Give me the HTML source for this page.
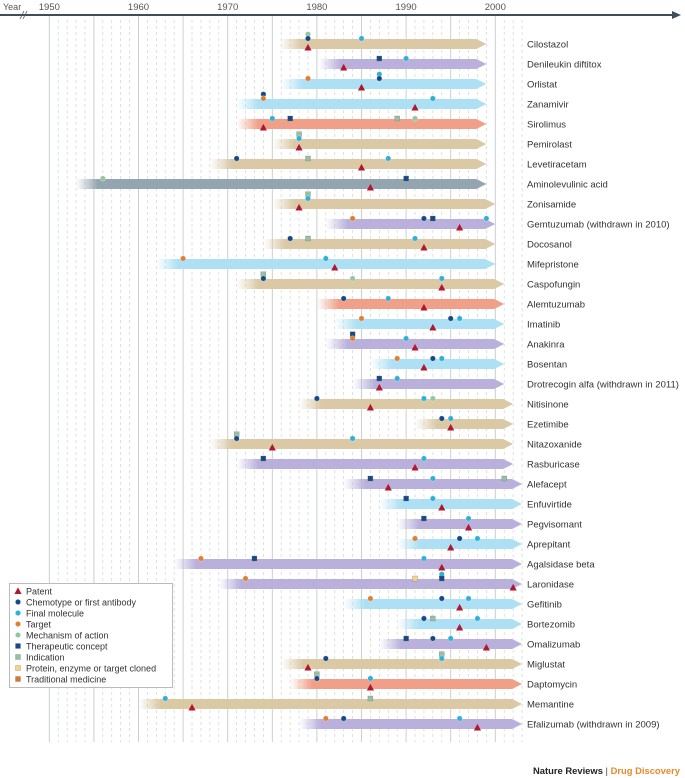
<!DOCTYPE html>
<html><head><meta charset="utf-8"><style>
body{margin:0;background:#fff;}
svg{display:block;font-family:"Liberation Sans",sans-serif;}
</style></head><body>
<svg id="chart" width="685" height="778" viewBox="0 0 685 778" xmlns="http://www.w3.org/2000/svg">
<defs id="defs"></defs>
<g id="grid"></g>
<g id="axis">
<line x1="0" y1="15" x2="672" y2="15" stroke="#3d4f5c" stroke-width="2"/>
<polygon points="672,11 681,15 672,19" fill="#3d4f5c"/>
<text x="3" y="10" font-size="9" fill="#555">Year</text>
<line x1="20" y1="19" x2="24" y2="11" stroke="#555" stroke-width="0.8"/>
<line x1="23" y1="19" x2="27" y2="11" stroke="#555" stroke-width="0.8"/>
</g>
<g id="bands"></g>
<g id="marks"></g>
<g id="labels"></g>
<g>
<rect x="9.5" y="583.5" width="163" height="104" fill="#fff" stroke="#bbb" stroke-width="1"/>
<g id="legend"></g>
</g>
<text x="533" y="774" font-size="9.5" font-weight="bold" fill="#222" textLength="147" lengthAdjust="spacingAndGlyphs">Nature Reviews <tspan fill="#444" font-weight="normal">|</tspan> <tspan fill="#e8892a">Drug Discovery</tspan></text>
</svg>
<script>
const drugs=["Cilostazol","Denileukin diftitox","Orlistat","Zanamivir","Sirolimus","Pemirolast","Levetiracetam","Aminolevulinic acid","Zonisamide","Gemtuzumab (withdrawn in 2010)","Docosanol","Mifepristone","Caspofungin","Alemtuzumab","Imatinib","Anakinra","Bosentan","Drotrecogin alfa (withdrawn in 2011)","Nitisinone","Ezetimibe","Nitazoxanide","Rasburicase","Alefacept","Enfuvirtide","Pegvisomant","Aprepitant","Agalsidase beta","Laronidase","Gefitinib","Bortezomib","Omalizumab","Miglustat","Daptomycin","Memantine","Efalizumab (withdrawn in 2009)"];
const startYears=[1975.8,1980.2,1976,1971,1971,1975,1968,1953,1975,1981,1974,1962,1971,1980,1982,1981,1986,1984,1978,1991,1968,1971,1983,1987,1989,1989,1964,1969,1983,1989,1987,1976,1977,1960,1978];
const approvalYears=[1999,1999,1999,1999,1999,1999,1999,1999,2000,2000,2000,2000,2001,2001,2001,2001,2001,2001,2002,2002,2002,2002,2003,2003,2003,2003,2003,2003,2003,2003,2003,2003,2003,2003,2003];
const bandColors=["tan","purple","blue","blue","salmon","tan","tan","slate","tan","purple","tan","blue","tan","salmon","blue","purple","blue","purple","tan","tan","tan","purple","purple","blue","purple","blue","purple","purple","blue","blue","purple","tan","salmon","tan","purple"];
// markers: [row, type, year, level]
const markers=[
[0,"mech",1979,2],[0,"chem",1979,1],[0,"final",1985,1],[0,"patent",1979,0],
[1,"concept",1987,1],[1,"final",1990,1],[1,"patent",1983,0],
[2,"target",1979,1],[2,"final",1987,2],[2,"chem",1987,1],[2,"patent",1985,0],
[3,"chem",1974,2],[3,"target",1974,1],[3,"final",1993,1],[3,"patent",1991,0],
[4,"final",1975,1],[4,"concept",1977,1],[4,"indication",1989,1],[4,"mech",1991,1],[4,"patent",1974,0],
[5,"indication",1978,2],[5,"final",1978,1],[5,"patent",1978,0],
[6,"chem",1971,1],[6,"indication",1979,1],[6,"final",1988,1],[6,"patent",1985,0],
[7,"mech",1956,1],[7,"concept",1990,1],[7,"patent",1986,0],
[8,"indication",1979,2],[8,"final",1979,1],[8,"patent",1978,0],
[9,"target",1984,1],[9,"chem",1992,1],[9,"concept",1993,1],[9,"final",1999,1],[9,"patent",1996,0],
[10,"chem",1977,1],[10,"indication",1979,1],[10,"final",1991,1],[10,"patent",1992,0],
[11,"target",1965,1],[11,"final",1981,1],[11,"patent",1982,0],
[12,"indication",1974,2],[12,"chem",1974,1],[12,"mech",1984,1],[12,"final",1994,1],[12,"patent",1994,0],
[13,"chem",1983,1],[13,"final",1988,1],[13,"patent",1992,0],
[14,"target",1985,1],[14,"chem",1995,1],[14,"final",1996,1],[14,"patent",1993,0],
[15,"concept",1984,2],[15,"target",1984,1],[15,"final",1990,1],[15,"patent",1991,0],
[16,"target",1989,1],[16,"chem",1993,1],[16,"final",1994,1],[16,"patent",1992,0],
[17,"concept",1987,1],[17,"final",1989,1],[17,"patent",1987,0],
[18,"chem",1980,1],[18,"final",1992,1],[18,"mech",1993,1],[18,"patent",1986,0],
[19,"chem",1994,1],[19,"final",1995,1],[19,"patent",1995,0],
[20,"indication",1971,2],[20,"chem",1971,1],[20,"final",1984,1],[20,"patent",1975,0],
[21,"concept",1974,1],[21,"final",1992,1],[21,"patent",1991,0],
[22,"concept",1986,1],[22,"final",1993,1],[22,"indication",2001,1],[22,"patent",1988,0],
[23,"concept",1990,1],[23,"final",1993,1],[23,"patent",1994,0],
[24,"concept",1992,1],[24,"final",1997,1],[24,"patent",1997,0],
[25,"target",1991,1],[25,"chem",1996,1],[25,"final",1998,1],[25,"patent",1995,0],
[26,"target",1967,1],[26,"concept",1973,1],[26,"final",1992,1],[26,"patent",1994,0],
[27,"target",1972,1],[27,"cloned",1991,1],[27,"final",1994,2],[27,"concept",1994,1],[27,"patent",2002,0],
[28,"target",1986,1],[28,"chem",1994,1],[28,"final",1997,1],[28,"patent",1996,0],
[29,"chem",1992,1],[29,"indication",1993,1],[29,"final",1998,1],[29,"patent",1996,0],
[30,"concept",1990,1],[30,"chem",1993,1],[30,"final",1995,1],[30,"patent",1999,0],
[31,"chem",1981,1],[31,"indication",1994,2],[31,"final",1994,1],[31,"patent",1979,0],
[32,"indication",1980,2],[32,"chem",1980,1],[32,"final",1986,1],[32,"patent",1986,0],
[33,"final",1963,1],[33,"indication",1986,1],[33,"patent",1966,0],
[34,"target",1981,1],[34,"chem",1983,1],[34,"final",1996,1],[34,"patent",1998,0]
];
const tickYears=[1950,1960,1970,1980,1990,2000];
const legendKeys=["patent","chem","final","target","mech","concept","indication","cloned","traditional"];
const legendLabels=["Patent","Chemotype or first antibody","Final molecule","Target","Mechanism of action","Therapeutic concept","Indication","Protein, enzyme or target cloned","Traditional medicine"];

const NS="http://www.w3.org/2000/svg";
const X=y=>49.3+(y-1950)*8.92;
const Y=i=>44+i*20;
const fills={tan:"#dbc9a6",purple:"#b9b0dc",blue:"#ade0f4",salmon:"#f0a088",slate:"#95a5b0"};
const style={patent:["tri","#b3172f"],chem:["circ","#164a86"],final:["circ","#2fb0d8"],target:["circ","#e0802f"],mech:["circ","#94c6a4"],concept:["sq","#164a86"],indication:["sq","#96bfa6"],cloned:["sq","#f7d583"],traditional:["sq","#d8782e"]};
function el(t,a,p){const e=document.createElementNS(NS,t);for(const k in a)e.setAttribute(k,a[k]);p.appendChild(e);return e;}
const grid=document.getElementById('grid');
for(let yr=1950;yr<=2003;yr++){
  const solid=yr%5===0;
  const l=el('line',{x1:X(yr),x2:X(yr),y1:solid?15:20,y2:742,stroke:solid?"#c5cace":"#cfd3d6","stroke-width":solid?0.9:0.7,"stroke-dasharray":solid?"none":"3,3"},grid);
  
  
}
const ax=document.getElementById('axis');
tickYears.forEach(t=>{
  const tx=el('text',{x:X(t),y:10,"font-size":9.5,fill:"#555","text-anchor":"middle"},ax);
  tx.textContent=t;
  
  
});
const defs=document.getElementById('defs'),bands=document.getElementById('bands'),labels=document.getElementById('labels');
drugs.forEach((d,i)=>{
  const x0=X(startYears[i]),tip=X(approvalYears[i]),body=tip-10,y=Y(i),w=tip-x0;
  const g=el('linearGradient',{id:'g'+i,x1:0,x2:1,y1:0,y2:0},defs);
  el('stop',{offset:0,"stop-color":fills[bandColors[i]],"stop-opacity":0},g);
  el('stop',{offset:Math.min(0.9,22/w),"stop-color":fills[bandColors[i]],"stop-opacity":1},g);
  el('stop',{offset:1,"stop-color":fills[bandColors[i]],"stop-opacity":1},g);
  const p=el('polygon',{points:`${x0},${y-5} ${body},${y-5} ${tip},${y} ${body},${y+5} ${x0},${y+5}`,fill:`url(#g${i})`},bands);
  
  
  const t=el('text',{x:527,y:y+3.5,"font-size":9.5,fill:"#333"},labels);
  t.textContent=d;
  
  
});
function drawMarker(type,cx,cy,parent){
  const [shape,c]=style[type];let m;
  if(shape==="tri")m=el('polygon',{points:`${cx-3.6},${cy+3} ${cx+3.6},${cy+3} ${cx},${cy-3.6}`,fill:c},parent);
  else if(shape==="circ")m=el('circle',{cx:cx,cy:cy,r:2.7,fill:c,stroke:"#fff","stroke-width":0.3},parent);
  else m=el('rect',{x:cx-2.5,y:cy-2.5,width:5,height:5,fill:c,stroke:"#777","stroke-width":0.3},parent);
  return m;
}
const marks=document.getElementById('marks');
markers.forEach(([r,type,yr,lvl])=>{
  const cy=lvl===0?Y(r)+3.5:Y(r)-5.5-(lvl-1)*4.3;
  const m=drawMarker(type,X(yr),cy,marks);
  
  
});
const lg=document.getElementById('legend');
legendKeys.forEach((k,i)=>{
  const y=591+i*11;
  const m=drawMarker(k,18,y,lg);
  
  
  const t=el('text',{x:26,y:y+3.3,"font-size":9,fill:"#333"},lg);
  t.textContent=legendLabels[i];
  
  
});
</script>
</body></html>
